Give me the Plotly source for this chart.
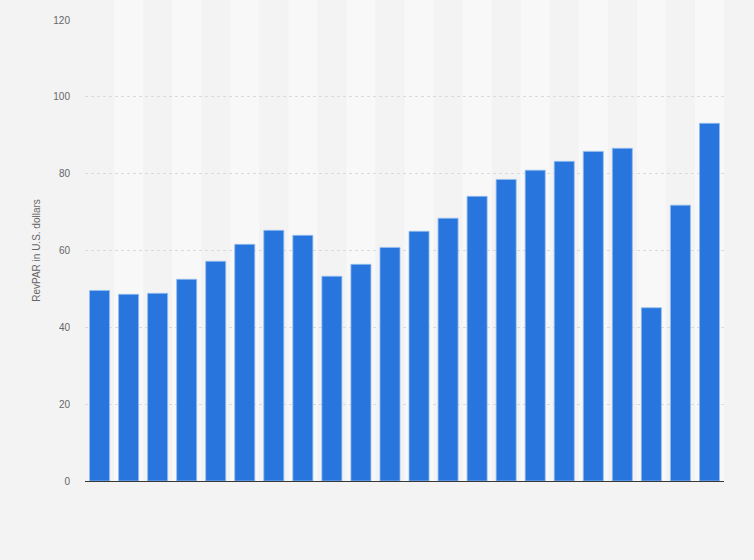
import plotly.graph_objects as go

years = [str(y) for y in range(2001, 2023)]
revpar = [49.6, 48.6, 48.85, 52.5, 57.2, 61.6, 65.25, 63.95, 53.3, 56.4, 60.8,
          65.0, 68.4, 74.1, 78.5, 80.9, 83.2, 85.8, 86.6, 45.1, 71.8, 93.1]

y_ticks = [0, 20, 40, 60, 80, 100, 120]

fig = go.Figure()

fig.add_trace(go.Bar(
    x=years,
    y=revpar,
    marker=dict(color="#2876dd", line=dict(color="rgba(150,190,240,0.8)", width=1)),
    width=0.69,
    hoverinfo="x+y",
))

# alternating column bands behind the bars
for i in range(1, len(years), 2):
    fig.add_shape(
        type="rect", xref="x", yref="paper",
        x0=i - 0.5, x1=i + 0.5, y0=0, y1=1.05,
        fillcolor="#f8f8f8", line=dict(width=0), layer="below",
    )

fig.update_layout(
    width=754,
    height=560,
    paper_bgcolor="#f3f3f3",
    plot_bgcolor="rgba(0,0,0,0)",
    margin=dict(l=84.5, r=29.5, t=20, b=79),
    showlegend=False,
    font=dict(family="Liberation Sans, Arial, sans-serif", size=10, color="#666666"),
    xaxis=dict(
        showticklabels=False,
        showgrid=False,
        showline=True,
        linecolor="#383838",
        linewidth=1.3,
        ticks="",
        range=[-0.5, len(years) - 0.5],
    ),
    yaxis=dict(
        range=[0, 120],
        tickvals=y_ticks,
        showgrid=True,
        gridcolor="#dadada",
        griddash="dot",
        gridwidth=1,
        zeroline=False,
        ticks="outside",
        ticklen=12,
        tickcolor="rgba(0,0,0,0)",
        tickfont=dict(size=10, color="#666666"),
        title=dict(text="RevPAR in U.S. dollars", font=dict(size=10, color="#666666"), standoff=10),
    ),
)

# remove the browser's default page margin so the chart fills the window
fig.write_html("out.html", config={"displayModeBar": False},
               post_script="document.body.style.margin='0';")
